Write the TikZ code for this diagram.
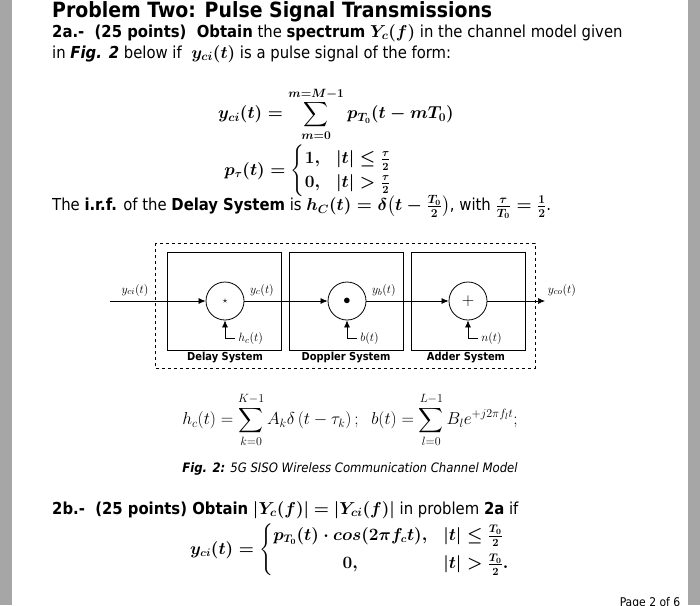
\documentclass[tikz,border=0pt]{standalone}
\usepackage{amsmath,bm}
\usepackage{fontspec}
\setmainfont{DejaVu Sans Condensed}
\usetikzlibrary{arrows.meta}
\begin{document}
\begin{tikzpicture}[x=1pt,y=-1pt,
  txt/.style={anchor=west,inner sep=0,font=\fontsize{16.5}{19}\selectfont},
  blk/.style={draw,line width=0.8pt},
  cir/.style={draw,circle,minimum size=38,inner sep=0,line width=0.8pt},
  sig/.style={-{Latex[length=7,width=6]},line width=0.7pt},
  syscap/.style={font=\fontsize{11}{13}\selectfont\bfseries,inner sep=0},
  lab/.style={font=\fontsize{13}{15}\selectfont,inner sep=0}]
\useasboundingbox (0,0) rectangle (700,605);
\fill[gray!70] (0,0) rectangle (12,605);
\fill[gray!70] (688,0) rectangle (700,605);
\node[txt,font=\fontsize{21}{24}\selectfont\bfseries] (t) at (52,12) {Problem Two: Pulse Signal Transmissions};
\node[txt] (l1) at (52,33) {\textbf{2a.- \ (25 points) \ Obtain} the \textbf{spectrum} $\boldsymbol{Y_c(f)}$ in the channel model given};
\node[txt] (l2) at (52,54) {in \textbf{\textit{Fig. 2}} below if \ $\boldsymbol{y_{ci}(t)}$ is a pulse signal of the form:};
\node[inner sep=0,font=\fontsize{17}{20}\selectfont\boldmath] (e1) at (336,114) {$\displaystyle y_{ci}(t) = \sum_{m=0}^{m=M-1} p_{T_0}(t-mT_0)$};
\node[inner sep=0,font=\fontsize{16}{19}\selectfont\boldmath] (e2) at (308,171) {$p_\tau(t) = \begin{cases}\mathbf{1}, & |t|\le \frac{\tau}{2}\\[1pt] \mathbf{0}, & |t|>\frac{\tau}{2}\end{cases}$};
\node[txt] (l3) at (52,207) {The \textbf{i.r.f.} of the \textbf{Delay System} is {\boldmath$h_C(t)=\delta\bigl(t-\frac{T_0}{2}\bigr)$}, with {\boldmath$\frac{\tau}{T_0}=\frac{1}{2}$}.};
% diagram
\draw[dashed,line width=0.6pt] (155,243) rectangle (535,368);
\draw[blk] (167,252) rectangle (281,350);
\draw[blk] (289,252) rectangle (403,350);
\draw[blk] (411,252) rectangle (525,350);
\node[cir] (c1) at (225,301) {$\star$};
\node[cir,font=\Large] (c2) at (347,301) {$\bullet$};
\node[cir,font=\LARGE] (c3) at (468,301) {$+$};
\coordinate (in) at (110,301);
\coordinate (out) at (545,301);
\draw[sig] (in) -- (c1);
\draw[sig] (c1) -- (c2);
\draw[sig] (c2) -- (c3);
\draw[sig] (c3) -- (out);
\foreach \c/\l in {c1/h_c(t),c2/b(t),c3/n(t)}{
  \coordinate (\c b) at ([yshift=-18]\c.south);
  \draw[sig] (\c b) -- (\c.south);
  \draw[line width=0.7pt] (\c b) -- ++(10,0) node[lab,anchor=west,xshift=3] {$\l$};
}
\node[lab] (y1) at (135,290) {$y_{ci}(t)$};
\node[lab] (y2) at (262,290) {$y_c(t)$};
\node[lab] (y3) at (384,290) {$y_b(t)$};
\node[lab] (y4) at (562,290) {$y_{co}(t)$};
\node[syscap] (d1) at (225,358) {Delay System};
\node[syscap] (d2) at (346,358) {Doppler System};
\node[syscap] (d3) at (466,358) {Adder System};
\node[inner sep=0,font=\fontsize{18}{21}\selectfont] (e3) at (350,420) {$\displaystyle h_c(t)=\sum_{k=0}^{K-1}A_k\delta\left(t-\tau_k\right);\;\; b(t)=\sum_{l=0}^{L-1}B_le^{+j2\pi f_lt};$};
\node[inner sep=0,font=\fontsize{13}{15}\selectfont\itshape] (fc) at (350,469) {\textbf{Fig. 2:} 5G SISO Wireless Communication Channel Model};
\node[txt] (l4) at (52,510) {\textbf{2b.- \ (25 points) Obtain} $\boldsymbol{|Y_c(f)|=|Y_{ci}(f)|}$ in problem \textbf{2a} if};
\node[inner sep=0,font=\fontsize{16}{19}\selectfont\boldmath,anchor=west] (e4) at (190,550) {$y_{ci}(t)=\begin{cases}p_{T_0}(t)\cdot cos(2\pi f_ct), & |t|\le\frac{T_0}{2}\\[6pt] \hfill \mathbf{0},\hfill & |t|>\frac{T_0}{2}.\end{cases}$};
\node[inner sep=0,anchor=north,font=\fontsize{12}{14}\selectfont] (pg) at (650,597) {Page 2 of 6};
\end{tikzpicture}
\end{document}
